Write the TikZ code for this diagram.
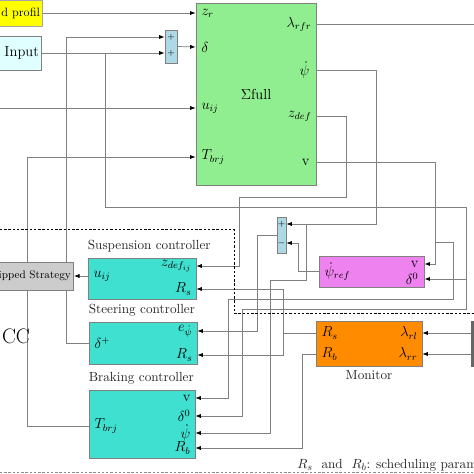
\documentclass[tikz,border=0pt]{standalone}
\usepackage{tikz}
\usetikzlibrary{arrows.meta,positioning}
\definecolor{roadyellow}{rgb}{1,1,0}
\definecolor{inputcyan}{HTML}{E0FFFF}
\definecolor{sumblue}{HTML}{ADD8E6}
\definecolor{sysgreen}{HTML}{90EE90}
\definecolor{ctrlturq}{HTML}{40E0D0}
\definecolor{refviolet}{HTML}{EE82EE}
\definecolor{monorange}{HTML}{FF8C00}
\definecolor{clipgray}{HTML}{CCCCCC}
\tikzset{
blk/.style={
	% plain box, size given where it is used
	rectangle, draw=black!50, semithick, inner sep=0pt
},
edgebox/.style={
	% box cut by the left border,
	% its text pushed to the right
	rectangle, draw=black!50, semithick,
	anchor=east, align=right, inner sep=0.8mm
},
port/.style={inner sep=0.3pt, font=\large},
sgn/.style={inner sep=0pt, font=\scriptsize},
wire/.style={draw=black!50, line width=0.6pt},
arr/.style={-{Latex[black,length=1.6mm,width=1.2mm]}},
lbl/.style={text=black!85, font=\fontsize{10.9}{13}\selectfont},
bound/.style={draw=black, thick, dash pattern=on 2pt off 1.5pt}
}
\pgfdeclarelayer{wires}
\pgfsetlayers{wires,main}

\begin{document}
\begin{tikzpicture}[x=0.29mm,y=-0.29mm]
	\useasboundingbox (0,0) rectangle (474,474);
	% full model and its inputs
	\node[edgebox, fill=roadyellow, draw=black!35, text width=20mm, minimum height=7.5mm] (road) at (43,13) {d profil};
	\node[edgebox, fill=inputcyan, text width=16mm, minimum height=9.9mm, font=\large] (input) at (42,53) {Input};
	\node[blk, fill=sumblue, minimum width=3.5mm, minimum height=9.6mm] (sum1) at (171,46.5) {};
	\node[sgn] (s1a) at (171,37) {$+$};
	\node[sgn] (s1b) at (171,53) {$+$};
	\node[blk, fill=sysgreen, minimum width=34.8mm, minimum height=52.8mm, font=\large] (sys) at (256,94) {$\Sigma$full};
	\node[port, anchor=west] (zr) at (201,13) {$z_r$};
	\node[port, anchor=west] (dl) at (201,47) {$\delta$};
	\node[port, anchor=west] (uij) at (201,108) {$u_{ij}$};
	\node[port, anchor=west] (tbrj) at (201,157) {$T_{brj}$};
	\node[port, anchor=east] (lrfr) at (312,24) {$\lambda_{rfr}$};
	\node[port, anchor=east] (psid) at (310,70) {$\dot\psi$};
	\node[port, anchor=east] (zdef) at (312,116) {$z_{def}$};
	\node[port, anchor=east] (vout) at (310,162) {v};

	% yaw rate error
	\node[blk, fill=sumblue, minimum width=2.6mm, minimum height=10.4mm] (sum2) at (281.5,235) {};
	\node[sgn] (s2a) at (281.5,224) {$+$};
	\node[sgn] (s2b) at (281.5,243) {$-$};
	\node[blk, fill=refviolet, minimum width=30.5mm, minimum height=9mm] (ref) at (371.5,271.5) {};
	\node[port, anchor=west] (psiref) at (324,272) {$\dot\psi_{ref}$};
	\node[port, anchor=east] (rv) at (419,264) {v};
	\node[port, anchor=east] (rd0) at (419,279) {$\delta^0$};

	% monitor
	\node[blk, fill=monorange, minimum width=30.7mm, minimum height=13.1mm] (mon) at (369,343.5) {};
	\node[port, anchor=west] (mrs) at (321,333) {$R_s$};
	\node[port, anchor=west] (mrb) at (321,354) {$R_b$};
	\node[port, anchor=east] (mrl) at (418,333) {$\lambda_{rl}$};
	\node[port, anchor=east] (mrr) at (418,354) {$\lambda_{rr}$};
	\node[lbl, below=0mm of mon] (monlbl) {Monitor};
	\node[blk, fill=black!60, draw=black!60, minimum width=13.9mm, minimum height=13.1mm] (slip) at (495.5,343.5) {};

	% controllers
	\node[blk, fill=ctrlturq, minimum width=31.3mm, minimum height=11.9mm] (susp) at (142,278.5) {};
	\node[port, anchor=west] (suij) at (93,276) {$u_{ij}$};
	\node[port, anchor=east] (szd) at (192,266) {$z_{def_{ij}}$};
	\node[port, anchor=east] (srs) at (192,289) {$R_s$};
	\node[lbl, above right=0.5mm and -1.2mm of susp.north west] (susplbl) {Suspension controller};

	\node[blk, fill=ctrlturq, minimum width=31.3mm, minimum height=12.2mm] (steer) at (143,343) {};
	\node[port, anchor=west] (stdp) at (94,343) {$\delta^+$};
	\node[port, anchor=east] (stpsi) at (193,331) {$e_{\dot\psi}$};
	\node[port, anchor=east] (strs) at (193,355) {$R_s$};
	\node[lbl, above right=0.3mm and -1.2mm of steer.north west] (steerlbl) {Steering controller};

	\node[blk, fill=ctrlturq, minimum width=30.7mm, minimum height=19.7mm] (brake) at (142,424) {};
	\node[port, anchor=west] (btb) at (94,426) {$T_{brj}$};
	\node[port, anchor=east] (bv) at (191,398) {v};
	\node[port, anchor=east] (bd0) at (191,416) {$\delta^0$};
	\node[port, anchor=east] (bpsi) at (191,433) {$\dot\psi$};
	\node[port, anchor=east] (brb) at (191,448) {$R_b$};
	\node[lbl, above right=0.3mm and -1.2mm of brake.north west] (brakelbl) {Braking controller};

	\node[edgebox, fill=clipgray, text width=28mm, minimum height=8.1mm, font=\small] (clip) at (74,276) {ipped Strategy};
	\node[font=\LARGE] (cc) at (16,336) {CC};
	\node[lbl, anchor=west] (note) at (293,465) {$R_s$ \ and \ $R_b$: scheduling param};

	% controller zone
	\draw[bound] (0,229) -| (234,313) -- (474,313);
	\draw[bound, draw=black!45] (0,472) -- (474,472);

	\begin{pgfonlayer}{wires}
	% into the full model
	\coordinate (uleft) at (0,108);
	\coordinate (lout) at (474,24);
	\draw[wire,arr] (road.east) -- (sys.west |- zr);
	\draw[wire,arr] (input.east) -- (sum1.west |- s1b);
	\draw[wire,arr] (sum1.east) -- (sys.west |- dl);
	\draw[wire,arr] (uleft) -- (sys.west |- uij);
	\draw[wire,arr] (brake.west |- btb) -| (27,157) -- (sys.west |- tbrj);
	\draw[wire,arr] (steer.west |- stdp) -| (66,37) -- (sum1.west |- s1a);
	\draw[wire,arr] (susp.west |- suij) -- (clip.east);
	\draw[wire] (sys.east |- lrfr) -- (lout);
	% steering input to the reference and braking
	\coordinate (jin) at (105,53);
	\draw[wire,arr] (jin) |- (466,207) |- (242,309) |- (brake.east |- bd0);
	\draw[wire,arr] (466,279) -- (ref.east |- rd0);
	% yaw rate
	\draw[wire,arr] (sys.east |- psid) -| (376,224) -- (sum2.east |- s2a);
	\draw[wire,arr] (306,224) |- (270,280) |- (brake.east |- bpsi);
	\draw[wire,arr] (ref.west) -| (298,243) -- (sum2.east |- s2b);
	\draw[wire,arr] (sum2.west) -| (257,331) -- (steer.east |- stpsi);
	% deflection and speed
	\draw[wire,arr] (sys.east |- zdef) -| (346,197) -| (239,266) -- (susp.east |- szd);
	\draw[wire,arr] (sys.east |- vout) -| (435,264) -- (ref.east |- rv);
	\draw[wire,arr] (435,242) -- (453,242) |- (228,299) |- (brake.east |- bv);
	% scheduling
	\draw[wire] (mon.west |- mrs) -- (283,333);
	\draw[wire,arr] (283,333) |- (susp.east |- srs);
	\draw[wire,arr] (283,333) |- (steer.east |- strs);
	\draw[wire,arr] (mon.west |- mrb) -| (302,448) -- (brake.east |- brb);
	\draw[wire,arr] (slip.west |- mrl) -- (mon.east |- mrl);
	\draw[wire,arr] (slip.west |- mrr) -- (mon.east |- mrr);
	\end{pgfonlayer}
\end{tikzpicture}
\end{document}
